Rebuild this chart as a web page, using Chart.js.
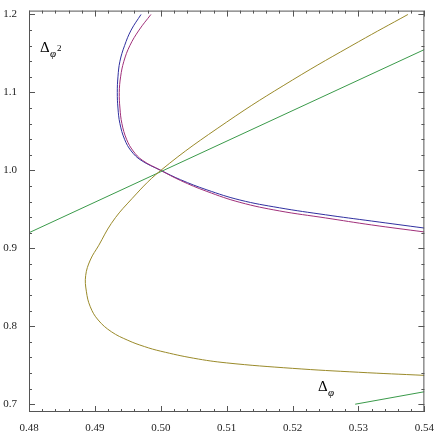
<!DOCTYPE html>
<html><head><meta charset="utf-8">
<script src="https://cdn.jsdelivr.net/npm/chart.js@4/dist/chart.umd.min.js"></script>
<style>body{margin:0;background:#fff}#wrap{width:436px;height:431px}</style>
</head><body><div id="wrap"><canvas id="c"></canvas></div>
<script>
// curve samples
const blueX = [0.4970, 0.4955, 0.4945, 0.4938, 0.4935, 0.4934, 0.4935, 0.4938, 0.4945, 0.4955, 0.4970, 0.5000, 0.5030, 0.5070, 0.5120, 0.5180, 0.5250, 0.5320, 0.5400];
const blueY = [1.200, 1.180, 1.160, 1.140, 1.120, 1.100, 1.080, 1.060, 1.040, 1.025, 1.013, 1.000, 0.988, 0.975, 0.962, 0.952, 0.943, 0.935, 0.926];
const purpleX = [0.4985, 0.4967, 0.4953, 0.4944, 0.4939, 0.4937, 0.4938, 0.4941, 0.4948, 0.4958, 0.4972, 0.5000, 0.5030, 0.5070, 0.5120, 0.5180, 0.5250, 0.5320, 0.5400];
const purpleY = [1.200, 1.180, 1.160, 1.140, 1.120, 1.100, 1.080, 1.060, 1.040, 1.025, 1.013, 1.000, 0.987, 0.973, 0.959, 0.948, 0.939, 0.930, 0.921];
const oliveX = [0.5375, 0.5300, 0.5200, 0.5100, 0.5000, 0.4950, 0.4925, 0.4906, 0.4893, 0.4886, 0.4887, 0.4893, 0.4905, 0.4925, 0.4950, 0.4975, 0.5000, 0.5050, 0.5100, 0.5200, 0.5300, 0.5400];
const oliveY = [1.200, 1.165, 1.116, 1.062, 1.000, 0.958, 0.932, 0.904, 0.885, 0.865, 0.845, 0.825, 0.808, 0.793, 0.782, 0.774, 0.768, 0.759, 0.753, 0.746, 0.741, 0.737];
const greenX = [0.480, 0.540];
const greenY = [0.920, 1.155];
const green2X = [0.5295, 0.540];
const green2Y = [0.700, 0.716];
const xTicks = [0.48, 0.49, 0.50, 0.51, 0.52, 0.53, 0.54];
const yTicks = [0.7, 0.8, 0.9, 1.0, 1.1, 1.2];

const pts = (xs, ys) => xs.map((x, i) => ({ x, y: ys[i] }));
const ds = (xs, ys, color, tension) => ({ data: pts(xs, ys), borderColor: color, borderWidth: 1, pointRadius: 0, showLine: true, tension });

const frame = {
  id: 'frame',
  afterDraw(ch) {
    const { ctx, chartArea: a, scales: { x, y } } = ch;
    ctx.save();
    ctx.strokeStyle = '#555'; ctx.lineWidth = 1;
    ctx.strokeRect(a.left + 0.5, a.top + 0.5, a.right - a.left - 1, a.bottom - a.top - 1);
    ctx.beginPath();
    for (let v = 0.48; v <= 0.5401; v += 0.002) {
      const px = Math.round(x.getPixelForValue(v)) + 0.5;
      const major = Math.abs(v * 100 - Math.round(v * 100)) < 1e-6;
      const l = major ? 6 : 3;
      ctx.moveTo(px, a.bottom); ctx.lineTo(px, a.bottom - l);
      ctx.moveTo(px, a.top); ctx.lineTo(px, a.top + l);
    }
    for (let v = 0.70; v <= 1.2001; v += 0.02) {
      const py = Math.round(y.getPixelForValue(v)) + 0.5;
      const major = Math.abs(v * 10 - Math.round(v * 10)) < 1e-6;
      const l = major ? 6 : 3;
      ctx.moveTo(a.left, py); ctx.lineTo(a.left + l, py);
      ctx.moveTo(a.right, py); ctx.lineTo(a.right - l, py);
    }
    ctx.stroke();
    ctx.fillStyle = '#000';
    ctx.font = '15px "Liberation Serif", serif';
    ctx.fillText('Δ', 40, 52);
    ctx.font = 'italic 11px "Liberation Serif", serif';
    ctx.fillText('φ', 50, 57);
    ctx.font = '9px "Liberation Serif", serif';
    ctx.fillText('2', 57, 51);
    ctx.font = '15px "Liberation Serif", serif';
    ctx.fillText('Δ', 318, 391);
    ctx.font = 'italic 11px "Liberation Serif", serif';
    ctx.fillText('φ', 328, 396);
    ctx.restore();
  }
};

new Chart(document.getElementById('c'), {
  type: 'scatter',
  data: { datasets: [
    ds(oliveX, oliveY, '#9a8a2a', 0.4),
    ds(greenX, greenY, '#3a9a4a', 0),
    ds(green2X, green2Y, '#3a9a4a', 0),
    ds(purpleX, purpleY, '#a0307a', 0.4),
    ds(blueX, blueY, '#3030a0', 0.4)
  ] },
  options: {
    responsive: true, maintainAspectRatio: false, animation: false,
    layout: { padding: { top: 4, right: 4, bottom: 0, left: 0 } },
    plugins: { legend: { display: false }, tooltip: { enabled: false } },
    scales: {
      x: { type: 'linear', min: 0.48, max: 0.54,
        afterBuildTicks: s => { s.ticks = xTicks.map(value => ({ value })); },
        afterFit: s => { s.height = 19; },
        grid: { display: false }, border: { display: false },
        ticks: { color: '#222', font: { family: 'Liberation Serif', size: 11 }, padding: 2, callback: v => v.toFixed(2) } },
      y: { type: 'linear', min: 0.69, max: 1.205,
        afterBuildTicks: s => { s.ticks = yTicks.map(value => ({ value })); },
        afterFit: s => { s.width = 29; },
        grid: { display: false }, border: { display: false },
        ticks: { color: '#222', font: { family: 'Liberation Serif', size: 11 }, padding: 4, callback: v => v.toFixed(1) } }
    }
  },
  plugins: [frame]
});
</script></body></html>
